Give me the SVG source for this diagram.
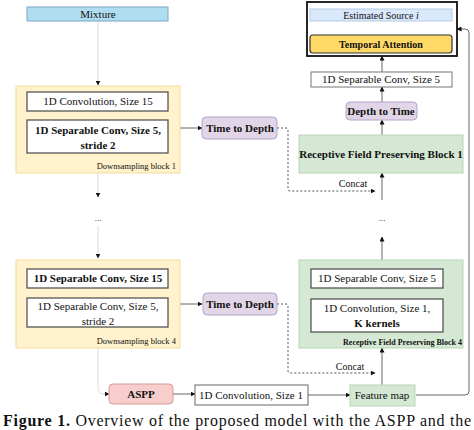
<svg xmlns="http://www.w3.org/2000/svg" width="474" height="430" viewBox="0 0 474 430">
<defs>
<marker id="arr" viewBox="0 0 10 10" refX="9" refY="5" markerWidth="5" markerHeight="5" markerUnits="userSpaceOnUse" orient="auto">
<path d="M0,0 L10,5 L0,10 z" fill="#111"/>
</marker>
<style>
text{font-family:"Liberation Serif","Times New Roman",serif;fill:#111;}
.t{font-size:11px;text-anchor:middle;}
.b{font-weight:bold;}
.s{font-size:8.5px;text-anchor:end;}
.yel{fill:#fff2cc;stroke:#f3dc9c;stroke-width:1;}
.grn{fill:#d5e8d4;stroke:#b9d6b4;stroke-width:1;}
.pur{fill:#e1d5e7;stroke:#b8a3c6;stroke-width:1;}
.wht{fill:#fff;stroke:#555;stroke-width:1.3;}
.ln{fill:none;stroke:#666;stroke-width:1;}
.fl{fill:none;stroke:#ddd;stroke-width:1;}
.dt{fill:none;stroke:#555;stroke-width:1;stroke-dasharray:2,2;}
</style>
</defs>

<g id="connectors">
<path class="fl" d="M98,21 V85" marker-end="url(#arr)"/>
<path class="fl" d="M98,111 V119" marker-end="url(#arr)"/>
<path class="fl" d="M98,173 V197" marker-end="url(#arr)"/>
<path class="fl" d="M98,226 V258" marker-end="url(#arr)"/>
<path class="fl" d="M98,288 V297" marker-end="url(#arr)"/>
<path class="fl" d="M98,348 V388 Q98,394 104,394 H109" marker-end="url(#arr)"/>
<path class="ln" d="M180,128 H202" marker-end="url(#arr)"/>
<path class="ln" d="M180,304 H202" marker-end="url(#arr)"/>
<path class="dt" d="M277,128 H286 Q288,128 288,130 V189 Q288,191 290,191 H375" marker-end="url(#arr)"/>
<path class="dt" d="M277,304 H286 Q288,304 288,306 V371 Q288,373 290,373 H375" marker-end="url(#arr)"/>
<path class="ln" d="M173,394 H195" marker-end="url(#arr)"/>
<path class="ln" d="M308,395 H350" marker-end="url(#arr)"/>
<path class="ln" d="M382,385 V348" marker-end="url(#arr)"/>
<path class="ln" d="M382,299 V288" marker-end="url(#arr)"/>
<path class="ln" d="M382,260 V237" marker-end="url(#arr)"/>
<path class="ln" d="M382,200 V173" marker-end="url(#arr)"/>
<path class="ln" d="M382,135 V120" marker-end="url(#arr)"/>
<path class="ln" d="M382,102 V87" marker-end="url(#arr)"/>
<path class="ln" d="M382,72 V56" marker-end="url(#arr)"/>
<path class="ln" d="M382,35 V22" marker-end="url(#arr)"/>
<path class="ln" d="M416,395 H465 Q469,395 469,391 V33 Q469,29 465,29 H457" marker-end="url(#arr)"/>
</g>

<g id="mixture">
<rect x="27" y="7" width="141" height="14" fill="#b1ddf0" stroke="#7aa6c2" stroke-width="1"/>
<text class="t" x="98" y="18">Mixture</text>
</g>

<g id="downsampling1">
<rect class="yel" x="16" y="86" width="164" height="87"/>
<rect class="wht" x="27" y="92" width="141" height="19"/>
<text class="t" x="98" y="105">1D Convolution, Size 15</text>
<rect class="wht" x="27" y="120" width="141" height="33"/>
<text class="t b" x="98" y="134">1D Separable Conv, Size 5,</text>
<text class="t b" x="98" y="149">stride 2</text>
<text class="s" x="176" y="169">Downsampling block 1</text>
</g>

<g id="ellipsis-left"><text class="t" x="98" y="221" style="font-size:9px">...</text></g>

<g id="downsampling4">
<rect class="yel" x="16" y="260" width="164" height="88"/>
<rect class="wht" x="27" y="269" width="141" height="19"/>
<text class="t b" x="98" y="282">1D Separable Conv, Size 15</text>
<rect class="wht" x="27" y="298" width="141" height="29"/>
<text class="t" x="98" y="310">1D Separable Conv, Size 5,</text>
<text class="t" x="98" y="325">stride 2</text>
<text class="s" x="176" y="344">Downsampling block 4</text>
</g>

<g id="t2d1">
<rect class="pur" x="202" y="117" width="75" height="22" rx="4"/>
<text class="t b" x="240" y="132">Time to Depth</text>
</g>
<g id="t2d4">
<rect class="pur" x="203" y="293" width="74" height="22" rx="4"/>
<text class="t b" x="240" y="308">Time to Depth</text>
</g>

<g id="concat1"><text class="t" x="353" y="187" style="font-size:10px">Concat</text></g>
<g id="concat4"><text class="t" x="350" y="370" style="font-size:10px">Concat</text></g>

<g id="output">
<rect x="307" y="2" width="150" height="54" fill="#fff" stroke="#111" stroke-width="1.8"/>
<rect x="310" y="9" width="142" height="12" fill="#dae8fc" stroke="#b6cbe6" stroke-width="1"/>
<text class="t" x="381" y="19" style="font-size:10px">Estimated Source <tspan font-style="italic">i</tspan></text>
<rect x="310" y="35" width="142" height="18" rx="3" fill="#ffd966" stroke="#333" stroke-width="1.2"/>
<text class="t b" x="381" y="48" style="font-size:10px">Temporal Attention</text>
</g>

<g id="sepconv-out">
<rect class="wht" x="311" y="72" width="141" height="15" style="stroke:#777;stroke-width:1"/>
<text class="t" x="381" y="83">1D Separable Conv, Size 5</text>
</g>

<g id="d2t">
<rect class="pur" x="346" y="102" width="71" height="18" rx="4"/>
<text class="t b" x="381" y="115">Depth to Time</text>
</g>

<g id="rfpb1">
<rect class="grn" x="299" y="135" width="164" height="38"/>
<text class="t b" x="381" y="158">Receptive Field Preserving Block 1</text>
</g>

<g id="ellipsis-right"><text class="t" x="382" y="221" style="font-size:9px">...</text></g>

<g id="rfpb4">
<rect class="grn" x="299" y="260" width="164" height="88"/>
<rect class="wht" x="311" y="269" width="132" height="19"/>
<text class="t" x="377" y="282">1D Separable Conv, Size 5</text>
<rect class="wht" x="311" y="299" width="132" height="33"/>
<text class="t" x="377" y="312">1D Convolution, Size 1,</text>
<text class="t b" x="377" y="327">K kernels</text>
<text class="s b" x="462" y="345" style="font-size:8px">Receptive Field Preserving Block 4</text>
</g>

<g id="aspp">
<rect x="109" y="384" width="64" height="20" rx="4" fill="#f8cecc" stroke="#d69a98" stroke-width="1"/>
<text class="t b" x="141" y="398">ASPP</text>
</g>

<g id="conv1">
<rect class="wht" x="195" y="385" width="113" height="20" style="stroke:#666;stroke-width:1"/>
<text class="t" x="251" y="399">1D Convolution, Size 1</text>
</g>

<g id="featuremap">
<rect class="grn" x="350" y="385" width="65" height="21"/>
<text class="t" x="382" y="399">Feature map</text>
</g>

<g id="caption">
<text x="3" y="426" style="font-size:16px" textLength="468" lengthAdjust="spacing"><tspan font-weight="bold">Figure 1.</tspan> Overview of the proposed model with the ASPP and the</text>
</g>
</svg>
